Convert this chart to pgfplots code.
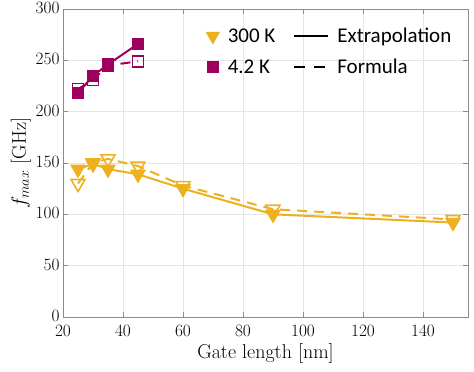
\documentclass[border=0pt]{standalone}
\usepackage{pgfplots}
\pgfplotsset{compat=1.18}
\usepackage{fontspec}
\newfontfamily\legfont{Carlito}
\definecolor{myor}{RGB}{237,177,32}
\definecolor{mypu}{RGB}{158,0,93}
\definecolor{axgray}{RGB}{140,140,140}
\begin{document}
\begin{tikzpicture}
\begin{axis}[
 scale only axis, width=405pt, height=308pt,
 xmin=20, xmax=155, ymin=0, ymax=300,
 xtick={20,40,...,140}, ytick={0,50,...,300},
 grid=major, grid style={draw=black!10, line width=0.6pt},
 axis line style={draw=axgray, line width=0.8pt},
 tick style={draw=axgray, line width=0.8pt},
 tick align=inside, major tick length=5pt,
 tick label style={font=\fontsize{18}{20}\selectfont},
 xticklabel style={yshift=-5pt},
 yticklabel style={yshift=1pt},
 label style={font=\fontsize{20}{24}\selectfont},
 xlabel={Gate length [nm]}, ylabel={$f_{max}$ [GHz]},
 xlabel style={yshift=0pt},
 ylabel style={yshift=-2pt},
 legend columns=2,
 legend cell align=left,
 legend style={draw=none, fill=none, font=\legfont\fontsize{21}{24}\selectfont,
   at={(rel axis cs:0.345,0.952)}, anchor=north west,
   row sep=11pt,
   /tikz/every odd column/.append style={column sep=6pt},
   /tikz/every even column/.append style={column sep=16pt}},
]
% 300 K extrapolation
\addplot[myor, line width=2pt, mark=triangle*, mark size=8pt,
  mark options={rotate=180, solid, line width=1.2pt}, forget plot]
  coordinates {(25,144) (30,149) (35,144) (45,139) (60,125) (90,100) (150,92)};
% 300 K formula
\addplot[myor, line width=2pt, dash pattern=on 10pt off 7pt, mark=triangle, mark size=8pt,
  mark options={rotate=180, solid, fill=none, line width=1.6pt}, forget plot]
  coordinates {(25,130) (30,150) (35,154) (45,147) (60,128) (90,105) (150,95)};
% 4.2 K extrapolation
\addplot[mypu, line width=2pt, mark=square*, mark size=5.5pt,
  mark options={solid, line width=1pt}, forget plot]
  coordinates {(25,218) (30,235) (35,246) (45,266)};
% 4.2 K formula
\addplot[mypu, line width=2pt, dash pattern=on 10pt off 7pt, mark=square, mark size=5.5pt,
  mark options={solid, fill=none, line width=1.6pt}, forget plot]
  coordinates {(25,222) (30,231) (35,245) (45,249)};
% legend
\addlegendimage{only marks, mark=triangle*, mark size=8pt, mark options={rotate=180}, color=myor}
\addlegendentry{300 K}
\addlegendimage{black, line width=2pt, legend image code/.code={\draw (0pt,0pt) -- (34pt,0pt);}}
\addlegendentry{Extrapolation}
\addlegendimage{only marks, mark=square*, mark size=5.5pt, color=mypu}
\addlegendentry{4.2 K}
\addlegendimage{black, line width=2pt, dash pattern=on 11pt off 9pt, legend image code/.code={\draw (0pt,0pt) -- (32pt,0pt);}}
\addlegendentry{Formula}
\end{axis}
\pgfresetboundingbox
\path ([xshift=-63pt,yshift=-55pt]current axis.south west) rectangle ([xshift=6pt,yshift=9pt]current axis.north east);
\end{tikzpicture}
\end{document}
